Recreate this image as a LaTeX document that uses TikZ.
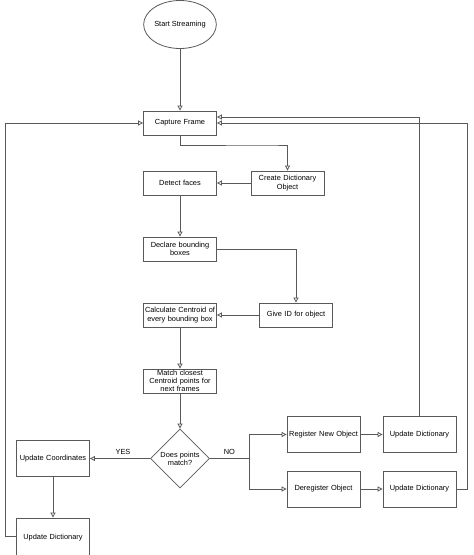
\documentclass[tikz,border=0pt]{standalone}
\usepackage{fontspec}
\setmainfont{Liberation Sans}
\usetikzlibrary{arrows.meta,shapes}

\begin{document}
\begin{tikzpicture}[x=1pt, y=-1pt, font=\fontsize{7.4}{8.2}\selectfont,
  line/.style={draw=black!65, line width=0.8pt},
  arr/.style={line, -{Triangle[open, length=5pt, width=5pt]}},
  box node/.style={rectangle, draw=black!65, line width=0.8pt, minimum width=73pt, minimum height=24pt, inner sep=1pt, align=center, text width=71pt},
  tall node/.style={box node, minimum height=36pt},
  start node/.style={ellipse, draw=black!65, line width=0.8pt, minimum width=72pt, minimum height=48pt, inner sep=0pt},
  test node/.style={diamond, draw=black!65, line width=0.8pt, minimum width=59pt, minimum height=59pt, inner sep=0pt, align=center}]
\clip (0,0) rectangle (474,555);
\node[start node] (start) at (180,24.5) {Start Streaming};
\node[box node] (capture) at (180,123) {Capture Frame};
\node[box node] (createdict) at (287.5,183) {Create Dictionary\\Object};
\node[box node] (detect) at (180,183) {Detect faces};
\node[box node] (declare) at (180,249) {Declare bounding\\boxes};
\node[box node] (giveid) at (296,315) {Give ID for object};
\node[box node] (centroid) at (180,315) {Calculate Centroid of\\every bounding box};
\node[box node] (match) at (180,381) {Match closest\\Centroid points for\\next frames};
\node[test node] (decide) at (180,458.5) {Does points\\match?};
\node[tall node] (updcoord) at (53,458.5) {Update Coordinates};
\node[tall node, minimum height=40pt] (upddictL) at (53,538) {Update Dictionary};
\node[tall node] (register) at (323.5,434.5) {Register New Object};
\node[tall node] (upddictA) at (419.5,434.5) {Update Dictionary};
\node[tall node] (deregister) at (323.5,489) {Deregister Object};
\node[tall node] (upddictB) at (419.5,489) {Update Dictionary};
\coordinate (split) at (249,458.5);
% main column
\draw[arr] (start) -- (capture);
\draw[arr] (capture.south) |- (270,145) -| (createdict.north);
\draw[arr] (createdict) -- (detect);
\draw[arr] (detect) -- (declare);
\draw[arr] (declare.east) -| (giveid.north);
\draw[arr] (giveid) -- (centroid);
\draw[arr] (centroid) -- (match);
\draw[arr] (match) -- (decide);
% decision
\draw[arr] (decide) -- node[above, pos=0.45] {YES} (updcoord);
\draw[line] (decide.east) -- node[above] {NO} (split);
\draw[arr] (split) |- (register.west);
\draw[arr] (split) |- (deregister.west);
\draw[arr] (register) -- (upddictA);
\draw[arr] (deregister) -- (upddictB);
\draw[arr] (updcoord) -- (upddictL);
% loops back
\draw[arr] (upddictA.north) |- ([yshift=6pt]capture.east);
\draw[arr] (upddictB.east) -- (467.5,489) |- (capture.east);
\draw[arr] (upddictL.west |- 0,536) -- (5.5,536) |- (capture.west);
\end{tikzpicture}
\end{document}
